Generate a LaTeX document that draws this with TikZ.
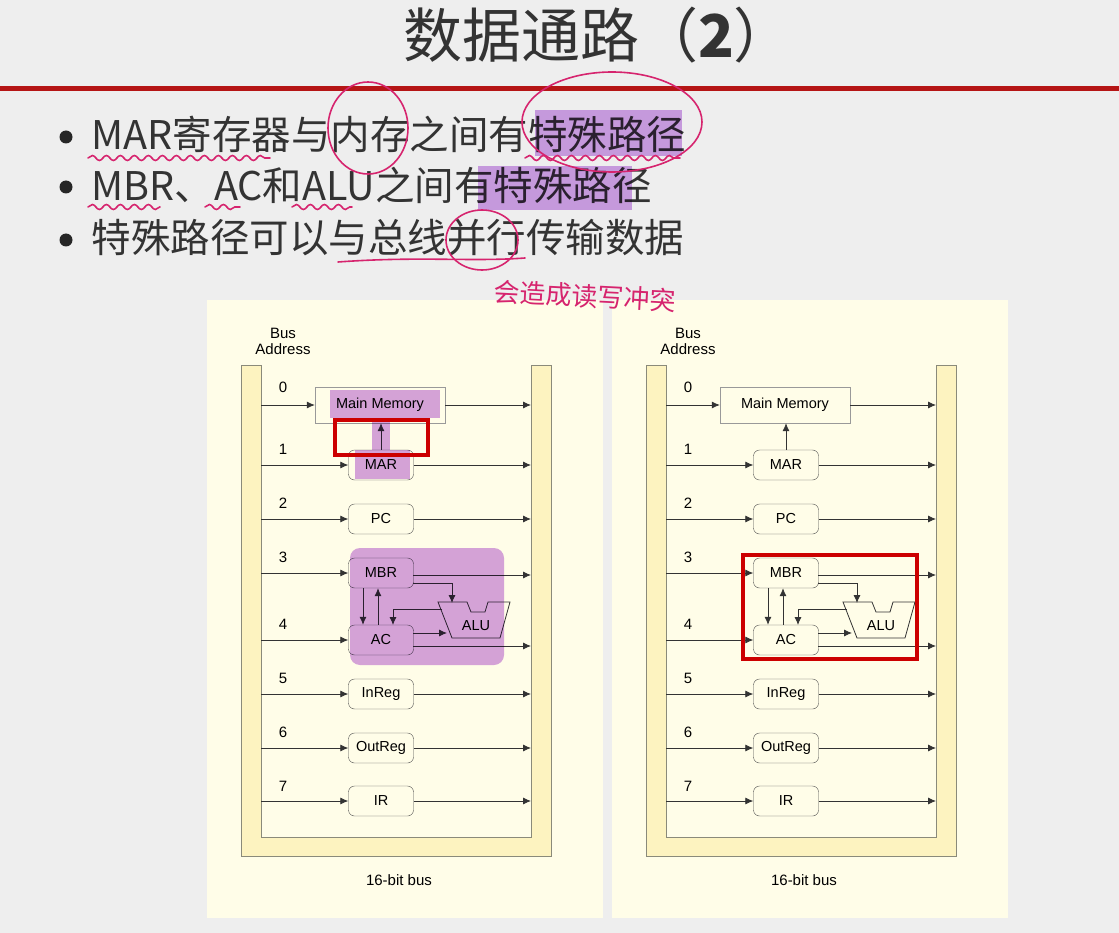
\documentclass[tikz,border=0pt]{standalone}
\usepackage{fontspec}
\setmainfont{Liberation Sans}
\newfontfamily\cjk{Noto Sans CJK SC}
\usetikzlibrary{arrows.meta,decorations.pathmorphing,calc}
\definecolor{pagebg}{HTML}{EEEEEE}
\definecolor{panelbg}{HTML}{FFFDE8}
\definecolor{busfill}{HTML}{FDF3C0}
\definecolor{busline}{HTML}{8A8A7A}
\definecolor{titlered}{HTML}{B51515}
\definecolor{boxred}{HTML}{CC0000}
\definecolor{hl}{HTML}{D4A4EC}
\definecolor{ink}{HTML}{D6246E}
\tikzset{
  reg/.style={draw=black!70,rounded corners=6pt,fill=panelbg,minimum width=65pt,minimum height=30pt,font=\fontsize{14.5}{14.5}\selectfont,inner sep=0pt},
  mem/.style={draw=black!40,fill=panelbg,minimum width=130pt,minimum height=36pt,font=\fontsize{14.5}{14.5}\selectfont},
  lbl/.style={font=\fontsize{15}{15}\selectfont},
  conn/.style={draw=black!80,line width=0.8pt,-{Latex[length=8pt,width=7pt]}},
  plain/.style={draw=black!80,line width=0.8pt},
  bullet/.style={anchor=west,font=\cjk\fontsize{39.5}{40}\selectfont,text=black!80},
  pen/.style={draw=ink,line width=1.6pt,line cap=round},
  wavy/.style={pen,decorate,decoration={snake,amplitude=2.5pt,segment length=14pt}},
  hlmark/.style={fill=hl,blend mode=multiply}
}
\newcommand\drawpanel{%
  \fill[panelbg] (207,300) rectangle (603,918);
  \node[lbl,align=center] (busaddr) at (283,341) {Bus\\[1pt]Address};
  \filldraw[fill=busfill,draw=busline,line width=0.8pt] (241,365) -- (241,856) -- (551,856) -- (551,365) -- (531,365) -- (531,837) -- (261,837) -- (261,365) -- cycle;
  \node[lbl] (bus16) at (399,880) {16-bit bus};
  \node[mem] (MM) at (380,405) {Main Memory};
  \node[reg] (MAR) at (381,465) {MAR};
  \node[reg] (PC) at (381,519) {PC};
  \node[reg] (MBR) at (381,573) {MBR};
  \node[reg] (AC) at (381,640) {AC};
  \node[reg] (InReg) at (381,694) {InReg};
  \node[reg] (OutReg) at (381,748) {OutReg};
  \node[reg] (IR) at (381,801) {IR};
  \foreach \n/\y in {0/387,1/449,2/503,3/557,4/624,5/678,6/732,7/786}{
    \node[lbl] (num\n) at (283,\y) {\n};
  }
  \foreach \k/\y in {MM/405,MAR/465,PC/519,MBR/573,AC/640,InReg/694,OutReg/748,IR/801}{
    \coordinate (bl\k) at (261,\y);
    \coordinate (br\k) at (531,\y);
    \draw[conn] (bl\k) -- (\k.west |- bl\k);
  }
  \foreach \k in {MM,MAR,PC,InReg,OutReg,IR}{\draw[conn] (\k.east |- br\k) -- (br\k);}
  \draw[conn] (MAR.north) -- (MM.south -| MAR.north);
  % ALU
  \draw[plain,fill=panelbg] (438,602) -- (467,602) -- (471,612) -- (485,612) -- (488,602) -- (510,602) -- (500,638) -- (452,638) -- cycle;
  \node[font=\fontsize{14.5}{14.5}\selectfont] (ALU) at (476,626) {ALU};
  \coordinate (mbrA) at (413,575); \coordinate (mbrB) at (413,583);
  \coordinate (busA) at (531,575);
  \draw[conn] (mbrA) -- (busA);
  \draw[conn] (mbrB) -- (452,583) -- (452,603);
  \coordinate (aluo) at (442,609);
  \draw[conn] (aluo) -- (393,609) -- (393,625);
  \coordinate (acA) at (413,633); \coordinate (acB) at (413,646);
  \coordinate (aluin) at (447,633); \coordinate (busB) at (531,646);
  \draw[conn] (acA) -- (aluin);
  \draw[conn] (acB) -- (busB);
  \draw[conn] (MBR.south -| 363,0) -- (AC.north -| 363,0);
  \draw[conn] (AC.north -| 378,0) -- (MBR.south -| 378,0);
}
\begin{document}
\begin{tikzpicture}[x=1pt,y=-1pt]
\useasboundingbox (0,0) rectangle (1119,933);
\fill[pagebg] (0,0) rectangle (1119,933);
\node[font=\cjk\fontsize{59}{59}\selectfont,text=black!80] (title) at (598,35) {数据通路（\textbf{2}）};
\fill[titlered] (0,86) rectangle (1119,91);
% bullets
\foreach \y in {137,187,240}{\fill[black!85] (66,\y) circle (6.5pt);}
\node[bullet] (b1) at (88,134) {MAR寄存器与内存之间有特殊路径};
\node[bullet] (b2) at (88,185) {MBR、AC和ALU之间有特殊路径};
\node[bullet] (b3) at (88,238) {特殊路径可以与总线并行传输数据};
\fill[hlmark] (535,110) rectangle (682,156);
\fill[hlmark] (478,166) rectangle (632,210);
% pen annotations
\draw[wavy] (88,158) -- (270,158);
\draw[wavy] (88,207) -- (160,207);
\draw[wavy] (205,207) -- (240,207);
\draw[wavy] (292,207) -- (352,207);
\draw[wavy] (525,158) -- (680,158);
\draw[pen] (338,262) .. controls (420,256) and (470,262) .. (525,258);
\draw[pen] (368,128) ellipse (40pt and 46pt);
\draw[pen] (612,122) ellipse (90pt and 50pt);
\draw[pen] (482,240) ellipse (36pt and 30pt);
% panels
\begin{scope}[name prefix=L-]\drawpanel\end{scope}
\begin{scope}[shift={(405,0)},name prefix=R-]\drawpanel\end{scope}
\node[font=\cjk\fontsize{26}{26}\selectfont,text=ink,rotate=-3] (note) at (585,296) {会造成读写冲突};
% left highlights
\fill[hlmark] (330,390) rectangle (440,418);
\fill[hlmark] (372,418) rectangle (390,450);
\fill[hlmark] (355,450) rectangle (410,479);
\fill[hlmark,rounded corners=10pt] (350,548) rectangle (504,665);
\draw[boxred,line width=3.5pt] (335,420) rectangle (428,455);
\draw[boxred,line width=3.5pt] (743,555) rectangle (917,659);
\end{tikzpicture}
\end{document}
